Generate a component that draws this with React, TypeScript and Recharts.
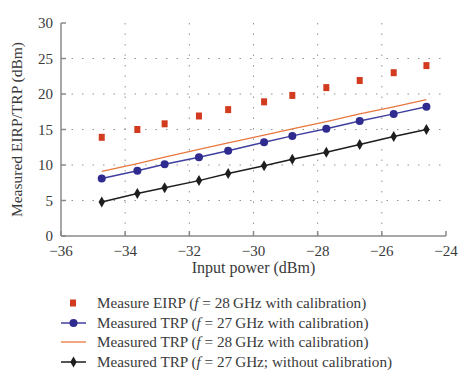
import { ComposedChart, Line, XAxis, YAxis, CartesianGrid } from 'recharts';

// values
const inputPower = [-34.73, -33.62, -32.77, -31.7, -30.79, -29.67, -28.79, -27.73, -26.69, -25.63, -24.61];
const eirp28Cal = [13.9, 15.0, 15.8, 16.9, 17.8, 18.9, 19.8, 20.9, 21.9, 23.0, 24.0];
const trp27Cal = [8.1, 9.2, 10.1, 11.1, 12.0, 13.2, 14.1, 15.1, 16.2, 17.2, 18.2];
const trp28Cal = [9.1, 10.2, 11.1, 12.2, 13.1, 14.2, 15.1, 16.1, 17.2, 18.2, 19.2];
const trp27NoCal = [4.8, 6.0, 6.8, 7.8, 8.8, 9.9, 10.8, 11.8, 12.9, 14.0, 15.0];

const xTicks = [-36, -34, -32, -30, -28, -26, -24];
const yTicks = [0, 5, 10, 15, 20, 25, 30];

const RED = '#d23b1f';
const BLUE = '#2f2b8f';
const BLUE_LINE = '#3f3fa0';
const ORANGE = '#e8773f';
const BLACK = '#1e1e1e';
const AXIS = '#8a8a8a';
const TEXT = '#3a3a3a';
const FONT = '"Liberation Serif", "DejaVu Serif", serif';

const data = inputPower.map((x, i) => ({
  x,
  eirp: eirp28Cal[i],
  trp27: trp27Cal[i],
  trp28: trp28Cal[i],
  trp27nc: trp27NoCal[i],
}));

const fmt = (v: number) => String(v).replace('-', '\u2212');

const Square = (p: any) => (
  <rect key={`s${p.index}`} x={p.cx - 3} y={p.cy - 3.5} width={6} height={7} fill={RED} />
);
const Circle = (p: any) => (
  <circle key={`c${p.index}`} cx={p.cx} cy={p.cy} r={4} fill={BLUE} />
);
const Diamond = (p: any) => (
  <polygon
    key={`d${p.index}`}
    points={`${p.cx},${p.cy - 5.5} ${p.cx + 3.2},${p.cy} ${p.cx},${p.cy + 5.5} ${p.cx - 3.2},${p.cy}`}
    fill={BLACK}
  />
);

const legendRows = [
  { kind: 'square', pre: 'Measure EIRP (', post: ' = 28\u2009GHz with calibration)' },
  { kind: 'circle', pre: 'Measured TRP (', post: ' = 27\u2009GHz with calibration)' },
  { kind: 'line', pre: 'Measured TRP (', post: ' = 28\u2009GHz with calibration)' },
  { kind: 'diamond', pre: 'Measured TRP (', post: ' = 27\u2009GHz; without calibration)' },
];
const legendY = [303, 322.5, 342, 361.5];

function Marker({ kind }: { kind: string }) {
  return (
    <svg width={30} height={20} style={{ position: 'absolute', left: 58, top: 0 }}>
      {kind === 'square' && <rect x={12} y={6.5} width={6} height={7} fill={RED} />}
      {kind === 'circle' && (
        <>
          <line x1={3} y1={10} x2={28} y2={10} stroke={BLUE_LINE} strokeWidth={1.5} />
          <circle cx={15.5} cy={10} r={4} fill={BLUE} />
        </>
      )}
      {kind === 'line' && <line x1={3} y1={10} x2={28} y2={10} stroke={ORANGE} strokeWidth={1.3} />}
      {kind === 'diamond' && (
        <>
          <line x1={3} y1={10} x2={28} y2={10} stroke={BLACK} strokeWidth={1.5} />
          <polygon points="15.5,4.5 18.7,10 15.5,15.5 12.3,10" fill={BLACK} />
        </>
      )}
    </svg>
  );
}

export default function App() {
  return (
    <div style={{ position: 'absolute', left: 0, top: 0, width: 474, height: 386, background: '#fff' }}>
      <ComposedChart width={474} height={290} data={data} margin={{ top: 23, right: 28, bottom: 14, left: 0 }}>
        <CartesianGrid
          stroke="#949494"
          strokeDasharray="1.5 9"
          horizontalValues={[5, 10, 15, 20, 25]}
          verticalValues={[-34, -32, -30, -28, -26]}
        />
        <XAxis
          dataKey="x"
          type="number"
          domain={[-36, -24]}
          ticks={xTicks}
          tickFormatter={fmt}
          height={40}
          stroke={AXIS}
          strokeWidth={1.5}
          tickSize={-5}
          tickMargin={14}
          tick={{ fill: TEXT, fontSize: 15, fontFamily: FONT }}
          label={{ value: 'Input power (dBm)', position: 'insideBottom', offset: 3, fill: TEXT, fontSize: 16, fontFamily: FONT }}
        />
        <XAxis
          xAxisId="top"
          orientation="top"
          dataKey="x"
          type="number"
          domain={[-36, -24]}
          ticks={xTicks}
          tickFormatter={() => ''}
          height={0}
          stroke={AXIS}
          strokeWidth={1.5}
          tickSize={-5}
        />
        <YAxis
          type="number"
          domain={[0, 30]}
          ticks={yTicks}
          width={61}
          stroke={AXIS}
          strokeWidth={1.5}
          tickSize={-5}
          tickMargin={13}
          tick={{ fill: TEXT, fontSize: 15, fontFamily: FONT }}
          label={{
            value: 'Measured EIRP/TRP (dBm)',
            angle: -90,
            position: 'insideLeft',
            offset: 16,
            fill: TEXT,
            fontSize: 15.5,
            fontFamily: FONT,
            style: { textAnchor: 'middle' },
          }}
        />
        <YAxis
          yAxisId="right"
          orientation="right"
          type="number"
          domain={[0, 30]}
          ticks={yTicks}
          tickFormatter={() => ''}
          width={0}
          stroke={AXIS}
          strokeWidth={1.5}
          tickSize={-5}
        />
        <Line dataKey="trp28" stroke={ORANGE} strokeWidth={1.3} dot={false} isAnimationActive={false} />
        <Line dataKey="trp27" stroke={BLUE_LINE} strokeWidth={1.5} dot={Circle} isAnimationActive={false} />
        <Line dataKey="trp27nc" stroke={BLACK} strokeWidth={1.5} dot={Diamond} isAnimationActive={false} />
        <Line dataKey="eirp" stroke="none" dot={Square} isAnimationActive={false} />
      </ComposedChart>
      {legendRows.map((r, i) => (
        <div
          key={i}
          style={{ position: 'absolute', left: 0, top: legendY[i] - 10, height: 20, width: 474 }}
        >
          <Marker kind={r.kind} />
          <span
            style={{
              position: 'absolute',
              left: 97,
              top: 0,
              lineHeight: '20px',
              fontSize: 15.2,
              fontFamily: FONT,
              color: TEXT,
              whiteSpace: 'nowrap',
            }}
          >
            {r.pre}
            <i>f</i>
            {r.post}
          </span>
        </div>
      ))}
    </div>
  );
}
